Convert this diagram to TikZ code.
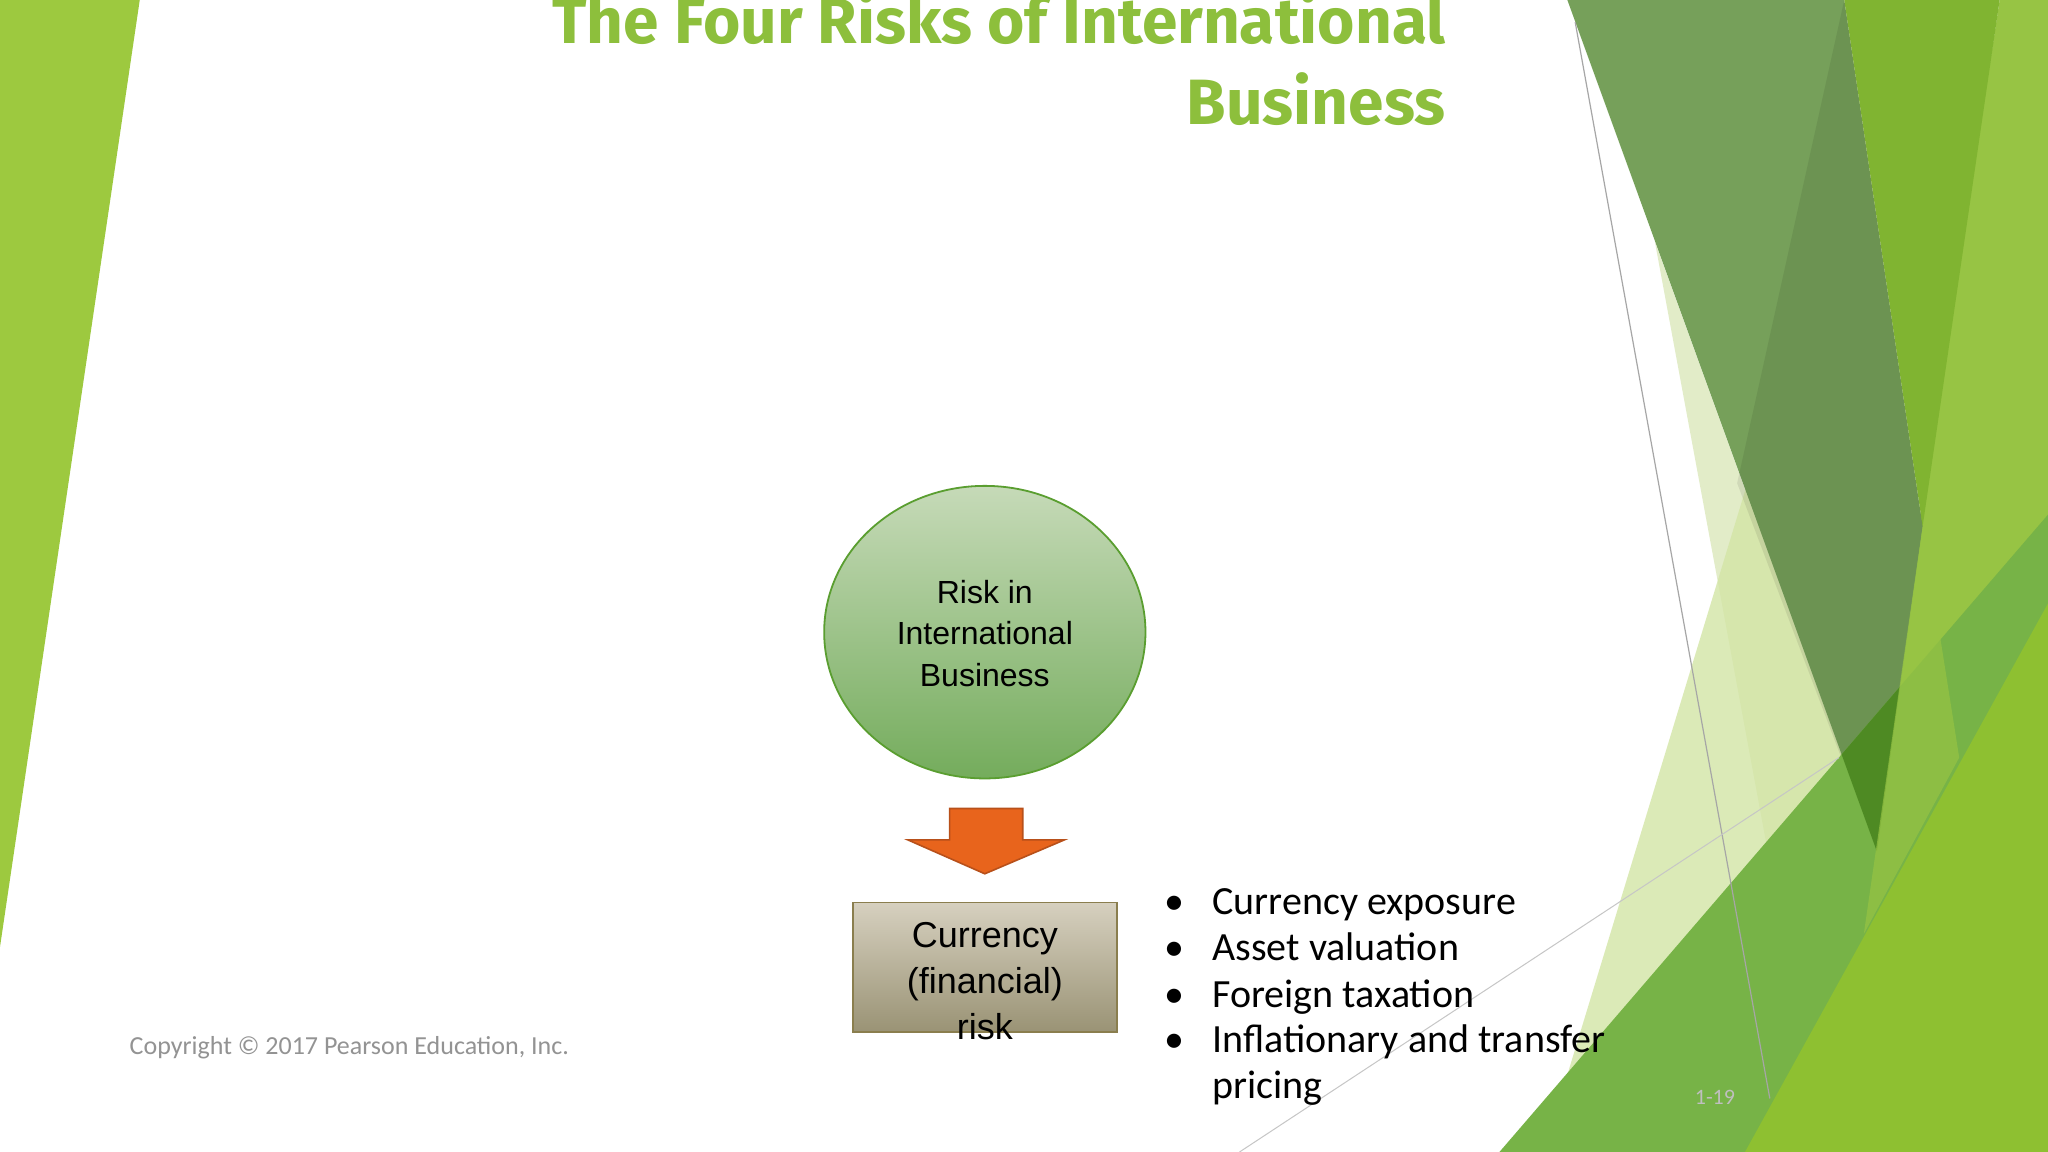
\documentclass[tikz,border=0pt]{standalone}
\usetikzlibrary{shapes.geometric}
\usepackage{fontspec}
\setmainfont{Carlito}
\newfontfamily\titlefont{Fira Sans}
\newfontfamily\arialfont{Liberation Sans}
\definecolor{titlegreen}{HTML}{8DBF3C}
\definecolor{leftgreen}{HTML}{9DC93F}
\definecolor{facetA}{HTML}{76A05A}
\definecolor{facetB}{HTML}{80B431}
\definecolor{facetC}{HTML}{97C444}
\definecolor{paleA}{HTML}{E2ECC8}
\definecolor{paleB}{HTML}{D3E5A6}
\definecolor{facetG}{HTML}{77B347}
\definecolor{facetH}{HTML}{8EC031}
\definecolor{facetD}{HTML}{4E8A23}
\definecolor{circtop}{HTML}{C6DAB8}
\definecolor{circbot}{HTML}{74AC5C}
\definecolor{circline}{HTML}{5A9E30}
\definecolor{boxtop}{HTML}{D6D0BF}
\definecolor{boxbot}{HTML}{9A9375}
\definecolor{boxline}{HTML}{8A7E4E}
\definecolor{arrfill}{HTML}{E8641C}
\definecolor{arrline}{HTML}{B8501A}
\begin{document}
\begin{tikzpicture}[x=0.653pt,y=-0.653pt,
  bul/.style={anchor=base west,inner sep=0pt,font=\fontsize{20}{23}\selectfont},
  ttl/.style={anchor=base east,inner sep=0pt,text=titlegreen,font=\titlefont\bfseries\fontsize{32}{38}\selectfont}]
\useasboundingbox (0,0) rectangle (1568,882);
\fill[white] (0,0) rectangle (1568,882);
% left strip
\fill[leftgreen] (0,0) -- (107,0) -- (0,725) -- cycle;
% right facets
\fill[facetC] (1531,0) -- (1568,0) -- (1568,882) -- (1395,882) -- cycle;
\fill[paleA] (1267,185) -- (1437,652) -- (1500,882) -- (1396,882) -- cycle;
\fill[paleB,opacity=0.8] (1182,882) -- (1350,330) -- (1437,652) -- (1420,882) -- cycle;
\fill[facetA] (1200,0) -- (1412,0) -- (1472,403) -- (1437,652) -- cycle;
\fill[facetB] (1412,0) -- (1531,0) -- (1472,403) -- cycle;
\fill[black,opacity=0.08] (1412,0) -- (1472,403) -- (1437,652) -- (1330,370) -- cycle;
\fill[facetG] (1148,882) -- (1568,394) -- (1568,882) -- cycle;
\begin{scope}
\clip (1200,0) -- (1412,0) -- (1472,403) -- (1437,652) -- cycle;
\fill[facetD] (1148,882) -- (1568,394) -- (1568,882) -- cycle;
\end{scope}
\fill[facetC,opacity=0.7] (1427,715) -- (1472,403) -- (1500,580) -- cycle;
\fill[facetH] (1336,882) -- (1568,462) -- (1568,882) -- cycle;
% thin lines
\draw[gray!70,line width=0.6pt] (1206,17) -- (1355,841);
\draw[gray!45,line width=0.5pt] (949,882) -- (1408,580);
% title
\node[ttl] (t1) at (1107,33) {The Four Risks of International};
\node[ttl] (t2) at (1107,95) {Business};
% circle
\node[ellipse,draw=circline,line width=0.9pt,top color=circtop,bottom color=circbot,
  minimum width=246*0.653pt,minimum height=224*0.653pt,inner sep=0pt] (risk) at (754,484) {};
\node[align=center,font=\arialfont\fontsize{16}{20.6}\selectfont] (risktxt) at (754,485) {Risk in\\International\\Business};
% arrow
\draw[fill=arrfill,draw=arrline,line width=0.8pt,line join=miter]
  (727,619) -- (783,619) -- (783,643) -- (815,643) -- (754,669) -- (695,643) -- (727,643) -- cycle;
% box
\node[rectangle,draw=boxline,line width=0.8pt,top color=boxtop,bottom color=boxbot,
  minimum width=202*0.653pt,minimum height=99*0.653pt,inner sep=0pt] (cur) at (754,740.5) {};
\node[align=center,font=\arialfont\fontsize{18}{23}\selectfont] (curtxt) at (754,751) {Currency\\(financial)\\risk};
% bullets
\foreach \y/\t [count=\i] in {700/Currency exposure,735/Asset valuation,771/Foreign taxation,806/Inflationary and transfer,841/pricing}{
  \node[bul] (b\i) at (928,\y) {\t};
}
\foreach \y [count=\i] in {700,735,771,806}{
  \node[bul] (d\i) at (891,\y) {•};
}
% footer
\node[anchor=base west,inner sep=0pt,text=gray!85,font=\fontsize{13}{15}\selectfont] (copy) at (99,807) {Copyright © 2017 Pearson Education, Inc.};
\node[anchor=base,inner sep=0pt,text=gray!50,font=\fontsize{11}{13}\selectfont] (pg) at (1313,846) {1-19};
\end{tikzpicture}
\end{document}
